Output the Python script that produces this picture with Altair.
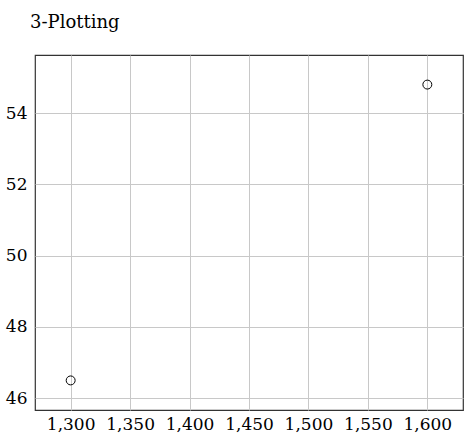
import altair as alt
import pandas as pd

x_vals = [1300, 1600]
y_vals = [46.5, 54.8]
x_ticks = [1300, 1350, 1400, 1450, 1500, 1550, 1600]
y_ticks = [46, 48, 50, 52, 54]

df = pd.DataFrame({"x": x_vals, "y": y_vals})
FONT = "DejaVu Serif"

chart = alt.Chart(df).mark_point(
    shape="circle", filled=False, stroke="black", strokeWidth=1, size=80, opacity=1
).encode(
    x=alt.X("x:Q", scale=alt.Scale(domain=[1270, 1630], nice=False, zero=False),
            axis=alt.Axis(values=x_ticks, format=",d", title=None, grid=True,
                          gridColor="#c8c8c8", labelFont=FONT, labelFontSize=17,
                          labelColor="black", ticks=False, domain=False,
                          labelPadding=6)),
    y=alt.Y("y:Q", scale=alt.Scale(domain=[45.67, 55.63], nice=False, zero=False),
            axis=alt.Axis(values=y_ticks, format="d", title=None, grid=True,
                          gridColor="#c8c8c8", labelFont=FONT, labelFontSize=17,
                          labelColor="black", ticks=False, domain=False,
                          labelPadding=8)),
).properties(
    width=428, height=355,
    title=alt.TitleParams("3-Plotting", anchor="start", frame="group", font=FONT,
                          fontSize=18, fontWeight="normal", color="black",
                          dx=-5, offset=23),
    autosize=alt.AutoSizeParams(type="none"),
    padding={"left": 35, "top": 55, "right": 11, "bottom": 32},
).configure_view(stroke="#333333", strokeWidth=1.2)

chart.save("out.html", embed_options={"renderer": "svg", "actions": False})
